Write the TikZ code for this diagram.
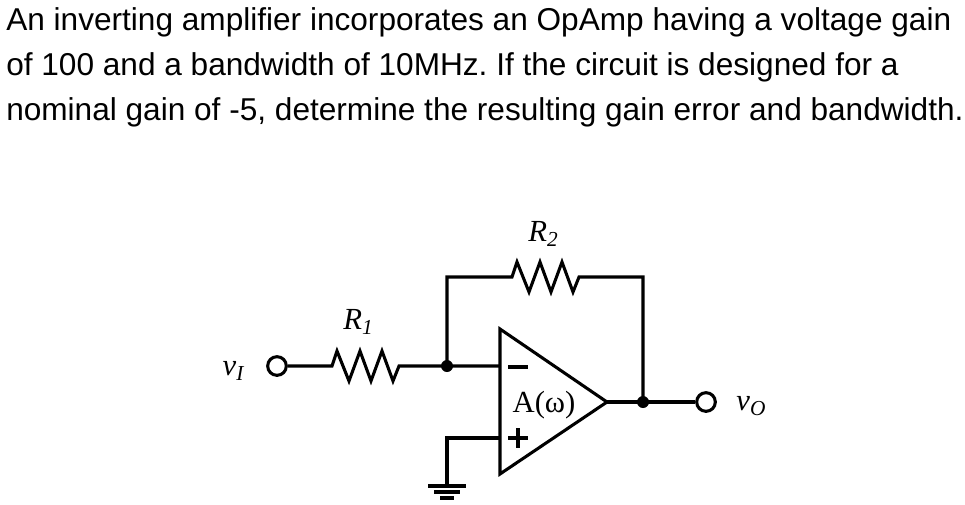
\documentclass[tikz,border=0pt]{standalone}
\usepackage{fontspec}
\setmainfont{Liberation Sans}
\newfontfamily\circuitfont{Liberation Serif}
\usetikzlibrary{positioning}
\frenchspacing

\newcommand{\sublabel}[2]{{\circuitfont\itshape\fontsize{23}{26}\selectfont #1\raisebox{-0.3ex}{\fontsize{16}{18}\selectfont #2}}}
% one resistor, left to right, from the current point
\newcommand{\zigzag}{-- ++(5,-15) -- ++(12,30) -- ++(11,-30) -- ++(11,30) -- ++(11,-30) -- ++(11,30) -- ++(6,-15)}

\begin{document}
\begin{tikzpicture}
    [x=0.75pt,y=-0.75pt,
    wire/.style={draw=black,line width=2.3pt,line join=miter},
    terminal/.style={circle,draw=black,fill=white,line width=2.3pt,
      inner sep=0pt,minimum size=14pt},
    junction/.style={circle,fill=black,inner sep=0pt,outer sep=0pt,minimum size=9pt},
    problem/.style={anchor=base west,inner sep=0pt,font=\fontsize{23.7}{28}\selectfont},
    sign/.style={inner sep=0pt,font=\circuitfont\fontsize{23}{26}\selectfont}]

    \useasboundingbox (0,0) rectangle (965,504);

    \node[problem] (line 1) at (6,30)  {An inverting amplifier incorporates an OpAmp having a voltage gain};
    \node[problem] (line 2) at (6,75)  {of 100 and a bandwidth of 10MHz. If the circuit is designed for a};
    \node[problem] (line 3) at (6,120) {nominal gain of -5, determine the resulting gain error and bandwidth.};

    \coordinate (top left)  at (500,329);
    \coordinate (bot left)  at (500,474);
    \coordinate (tip)       at (607,402);
    \coordinate (minus in)  at (500,366);
    \coordinate (plus in)   at (500,438);
    \coordinate (r1 left)   at (332,366);
    \coordinate (r1 right)  at (400,366);
    \coordinate (r2 left)   at (512,277);
    \coordinate (r2 right)  at (580,277);
    \coordinate (fb left)   at (447,277);
    \coordinate (fb right)  at (643,277);
    \coordinate (gnd corner) at (447,438);
    \coordinate (gnd)       at (447,486);

    \node[terminal] (vin)  at (277,366) {};
    \node[terminal] (vout) at (706,402) {};
    \node[junction] (inv)  at (447,366) {};
    \node[junction] (out)  at (643,402) {};

    \draw[wire] (vin) -- (r1 left) \zigzag -- (inv.center) -- (minus in);
    \draw[wire] (inv.center) -- (fb left) -- (r2 left) \zigzag -- (fb right) -- (out.center);
    \draw[wire] (tip) -- (out.center) -- (vout);
    \draw[wire] (plus in) -- (gnd corner) -- (gnd);
    \draw[wire] (top left) -- (tip) -- (bot left) -- cycle;

    % ground bars
    \draw[wire] (gnd) +(-19,0) -- +(19,0);
    \draw[wire] (gnd) +(-13,6) -- +(13,6);
    \draw[wire] (gnd) +(-7,12) -- +(7,12);

    \node (vi label) at (233,371) {\sublabel{v}{I}};
    \node (vo label) at (751,406) {\sublabel{v}{O}};
    \node (r1 label) at (358,322) {\sublabel{R}{1}};
    \node (r2 label) at (543,234) {\sublabel{R}{2}};
    \node[sign] (gain label) at (544,405) {A(ω)};

    \draw[wire] (508,367) -- (528,367);
    \draw[wire] (508,438) -- (528,438) (518,428) -- (518,448);
  \end{tikzpicture}
\end{document}
